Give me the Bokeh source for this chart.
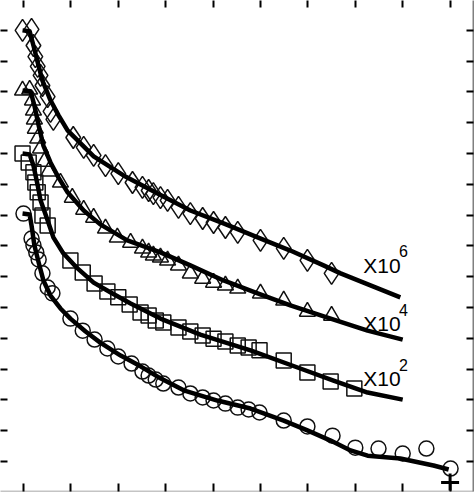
from bokeh.plotting import figure
from bokeh.models import Range1d, LinearAxis, FixedTicker, Label
from bokeh.embed import file_html
from bokeh.resources import INLINE

# ---- data (x in time units, y in decades; offsets are the X10^n multipliers) ----
x_ticks = list(range(0, 10))
y_ticks = list(range(0, 15))

circle_x = [0.0, 0.17, 0.21, 0.27, 0.32, 0.40, 0.51, 0.61, 0.99, 1.25, 1.50, 1.77, 2.00, 2.28, 2.51,
            2.64, 2.79, 2.95, 3.27, 3.52, 3.78, 4.01, 4.26, 4.52, 4.75, 4.98, 5.49, 5.99, 6.52, 7.00,
            7.49, 8.00, 8.50, 9.01]
circle_y = [8.05, 7.24, 7.02, 6.79, 6.56, 6.11, 5.65, 5.46, 4.64, 4.25, 3.96, 3.67, 3.41, 3.18, 2.92,
            2.79, 2.66, 2.53, 2.40, 2.21, 2.08, 1.98, 1.88, 1.75, 1.69, 1.59, 1.33, 1.14, 0.84, 0.45,
            0.42, 0.26, 0.42, -0.23]
circle_fit_x = [-0.02, 0.13, 0.17, 0.23, 0.32, 0.42, 0.57, 0.78, 0.99, 1.31, 1.62, 2.05, 2.47, 2.89,
                3.38, 4.09, 4.79, 5.49, 5.99, 6.48, 6.90, 7.26, 7.95, 8.65, 8.97]
circle_fit_y = [8.05, 8.02, 7.66, 7.02, 6.46, 5.88, 5.39, 4.97, 4.64, 4.22, 3.86, 3.44, 3.09, 2.70,
                2.31, 1.98, 1.72, 1.33, 1.01, 0.68, 0.36, 0.19, 0.10, -0.13, -0.26]
last_point_bar = [(9.0, -0.68)]

square_x = [-0.02, 0.11, 0.21, 0.25, 0.30, 0.36, 0.40, 0.51, 0.99, 1.25, 1.50, 1.77, 2.00, 2.24, 2.47,
            2.64, 2.79, 2.95, 3.27, 3.52, 3.78, 4.01, 4.26, 4.52, 4.75, 4.98, 5.49, 5.99, 6.48, 6.98]
square_y = [8.00, 7.71, 7.39, 7.06, 6.74, 6.41, 5.99, 5.66, 4.53, 4.14, 3.78, 3.52, 3.33, 3.10, 2.84,
            2.74, 2.58, 2.51, 2.35, 2.22, 2.09, 1.99, 1.90, 1.77, 1.70, 1.61, 1.28, 0.89, 0.60, 0.37]
square_fit_x = [-0.02, 0.13, 0.21, 0.30, 0.36, 0.51, 0.63, 0.84, 1.14, 1.48, 1.84, 2.26, 2.89, 3.73,
                4.79, 5.84, 6.54, 7.26, 8.00]
square_fit_y = [8.00, 7.97, 7.61, 6.96, 6.48, 5.83, 5.28, 4.76, 4.27, 3.81, 3.49, 3.13, 2.64, 2.12,
                1.61, 1.02, 0.63, 0.24, 0.01]

triangle_x = [-0.02, 0.13, 0.19, 0.21, 0.23, 0.25, 0.30, 0.36, 0.44, 0.53, 0.78, 1.03, 1.27, 1.48, 1.73,
              1.98, 2.26, 2.51, 2.64, 2.74, 2.89, 3.04, 3.27, 3.52, 3.78, 4.01, 4.26, 4.52, 5.00, 5.49,
              5.99, 6.50]
triangle_y = [8.05, 8.08, 7.73, 7.40, 7.11, 6.81, 6.49, 6.17, 5.74, 5.42, 5.06, 4.57, 4.18, 3.92, 3.57,
              3.28, 3.11, 2.92, 2.79, 2.69, 2.63, 2.53, 2.37, 2.11, 1.94, 1.81, 1.72, 1.62, 1.46, 1.23,
              0.87, 0.74]
triangle_fit_x = [-0.02, 0.15, 0.23, 0.32, 0.42, 0.57, 0.74, 0.93, 1.27, 1.62, 2.19, 2.89, 3.52, 4.22,
                  4.94, 5.63, 6.48, 7.26, 8.00]
triangle_fit_y = [8.05, 8.02, 7.56, 6.91, 6.26, 5.71, 5.22, 4.74, 4.15, 3.70, 3.18, 2.79, 2.37, 1.88,
                  1.46, 1.07, 0.64, 0.25, -0.04]

diamond_x = [-0.02, 0.17, 0.21, 0.25, 0.30, 0.36, 0.40, 0.51, 0.57, 0.63, 1.05, 1.27, 1.48, 1.73, 2.00,
             2.30, 2.51, 2.64, 2.74, 2.89, 3.04, 3.27, 3.52, 3.78, 4.01, 4.26, 4.52, 5.00, 5.49, 5.99,
             6.50]
diamond_y = [8.00, 8.03, 7.51, 7.15, 6.83, 6.54, 6.21, 5.85, 5.37, 5.11, 4.52, 4.20, 3.94, 3.61, 3.35,
             3.06, 2.90, 2.80, 2.70, 2.57, 2.48, 2.25, 2.05, 1.89, 1.76, 1.60, 1.44, 1.18, 0.92, 0.53,
             0.11]
diamond_fit_x = [-0.02, 0.13, 0.21, 0.30, 0.40, 0.57, 0.74, 0.93, 1.48, 2.11, 2.83, 3.52, 4.22, 4.94,
                 5.63, 6.33, 6.69, 7.32, 7.95]
diamond_fit_y = [8.00, 7.97, 7.51, 6.96, 6.37, 5.73, 5.24, 4.75, 3.91, 3.29, 2.70, 2.15, 1.73, 1.28,
                 0.85, 0.37, 0.11, -0.28, -0.67]

# multiplier labels: circle (none), square X10^2, triangle X10^4, diamond X10^6
exponents = [0, 2, 4, 6]
label_base = ["X10", "X10", "X10"]
label_sup = ["2", "4", "6"]
label_y = [2.70, 4.48, 6.37]

# ---- figure ----
p = figure(width=474, height=492, output_backend="svg", toolbar_location=None,
           x_range=Range1d(-0.485, 9.494), y_range=Range1d(-0.974, 14.97),
           x_axis_type=None, y_axis_type=None, min_border=0,
           min_border_right=1, min_border_bottom=1)
p.outline_line_color = None
p.background_fill_color = "white"
p.border_fill_color = "white"


def make_axis(ticks, line_color, tick_in):
    return LinearAxis(ticker=FixedTicker(ticks=ticks), major_tick_in=tick_in, major_tick_out=0,
                      minor_tick_in=0, minor_tick_out=0, major_tick_line_width=2,
                      major_tick_line_color="black", axis_line_color=line_color, axis_line_width=2,
                      major_label_overrides={t: "" for t in ticks},
                      major_label_text_font_size="1px", major_label_standoff=0)


p.add_layout(make_axis(y_ticks, None, 7), "left")
p.add_layout(make_axis(y_ticks, "#808080", 7), "right")
p.add_layout(make_axis(x_ticks, None, 7), "above")
p.add_layout(make_axis(x_ticks, "#c4c4c4", 8), "below")

series = [
    (circle_x, circle_y, circle_fit_x, circle_fit_y, "circle", 15),
    (square_x, square_y, square_fit_x, square_fit_y, "square", 15),
    (triangle_x, triangle_y, triangle_fit_x, triangle_fit_y, "triangle", 16),
    (diamond_x, diamond_y, diamond_fit_x, diamond_fit_y, "diamond", 22),
]

for (sx, sy, fx, fy, mk, size), e in zip(series, exponents):
    p.scatter(list(sx), [v + e for v in sy], marker=mk, size=size, fill_color=None,
              line_color="#111111", line_width=1.5)
    p.line(list(fx), [v + e for v in fy], line_width=4.5, line_color="black",
           line_join="round")

p.scatter([pt[0] for pt in last_point_bar], [pt[1] for pt in last_point_bar], marker="cross",
          size=18, line_color="black", line_width=3)

font = "'Liberation Sans', Arial, sans-serif"
for base, sup, ly in zip(label_base, label_sup, label_y):
    p.add_layout(Label(x=7.17, y=ly, text=base, text_font=font,
                       text_font_size="21px", text_color="black", text_baseline="alphabetic"))
    p.add_layout(Label(x=7.92, y=ly + 0.45, text=sup, text_font=font,
                       text_font_size="16px", text_color="black", text_baseline="alphabetic"))

open("out.html", "w").write(file_html(p, INLINE))
